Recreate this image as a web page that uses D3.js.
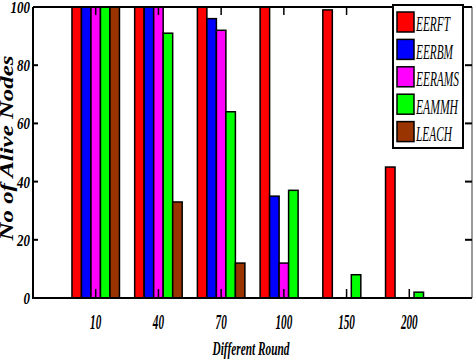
<!DOCTYPE html>
<html>
<head>
<meta charset="utf-8">
<script src="https://cdn.jsdelivr.net/npm/d3@7"></script>
<style>
  body { margin: 0; background: #fff; }
  svg { display: block; }
  text { font-family: "Liberation Serif", "Times New Roman", serif; }
</style>
</head>
<body>
<div id="container"></div>
<script>
// rounds on the x axis
var rounds = ["10", "40", "70", "100", "150", "200"];
// protocols (legend order)
var protocols = ["EERFT", "EERBM", "EERAMS", "EAMMH", "LEACH"];
var colors = ["#ff0000", "#0000ff", "#ff00ff", "#00ff00", "#993300"];
// alive nodes per protocol, one value per round
var eerft  = [100, 100, 100, 100, 99, 45];
var eerbm  = [100, 100, 96, 35, 0, 0];
var eerams = [100, 100, 92, 12, 0, 0];
var eammh  = [100, 91, 64, 37, 8, 2];
var leach  = [100, 33, 12, 0, 0, 0];
var yTicks = [0, 20, 40, 60, 80, 100];

var series = [eerft, eerbm, eerams, eammh, leach];

var svgWidth = 474, svgHeight = 362;
// plot box (note: "top" is reserved on window, so use a box object)
var box = { left: 33, right: 472, top: 7, bottom: 298 };

var svg = d3.select("div#container")
    .append("svg")
    .attr("width", svgWidth)
    .attr("height", svgHeight);

// x: groups sit at 1..6 on a 0..7 linear scale
var x = d3.scaleLinear().domain([0, rounds.length + 1]).range([box.left, box.right]);
var y = d3.scaleLinear().domain([0, 100]).range([box.bottom, box.top]);
var barW = 9.5;

// bars
var bars = [];
series.forEach(function (vals, s) {
    vals.forEach(function (v, g) {
        if (v > 0) bars.push({ g: g, s: s, v: v });
    });
});

svg.selectAll("rect.bar")
    .data(bars)
    .enter()
    .append("rect")
    .attr("class", "bar")
    .attr("x", function (d) { return x(d.g + 1) + (d.s - 2.5) * barW; })
    .attr("y", function (d) { return y(d.v); })
    .attr("width", barW)
    .attr("height", function (d) { return y(0) - y(d.v); })
    .attr("fill", function (d) { return colors[d.s]; })
    .attr("stroke", "#000")
    .attr("stroke-width", 1.5);

// frame
svg.append("line").attr("x1", box.right).attr("x2", box.right).attr("y1", box.top).attr("y2", box.bottom)
    .attr("stroke", "#999").attr("stroke-width", 2);
svg.append("line").attr("x1", box.left).attr("x2", box.right).attr("y1", box.top).attr("y2", box.top)
    .attr("stroke", "#000").attr("stroke-width", 2);
svg.append("line").attr("x1", box.left).attr("x2", box.left).attr("y1", box.top).attr("y2", box.bottom + 1)
    .attr("stroke", "#000").attr("stroke-width", 2);
svg.append("line").attr("x1", box.left).attr("x2", box.right).attr("y1", box.bottom).attr("y2", box.bottom)
    .attr("stroke", "#000").attr("stroke-width", 2);

// ticks inward
var groupIdx = d3.range(1, rounds.length + 1);
svg.selectAll("line.ttick").data(groupIdx).enter().append("line")
    .attr("x1", function (d) { return x(d); }).attr("x2", function (d) { return x(d); })
    .attr("y1", box.top).attr("y2", box.top + 8)
    .attr("stroke", "#000").attr("stroke-width", 1.5);
svg.selectAll("line.btick").data(groupIdx).enter().append("line")
    .attr("x1", function (d) { return x(d); }).attr("x2", function (d) { return x(d); })
    .attr("y1", box.bottom).attr("y2", box.bottom - 9)
    .attr("stroke", "#000").attr("stroke-width", 1.5);
svg.selectAll("line.ltick").data(yTicks).enter().append("line")
    .attr("x1", box.left).attr("x2", box.left + 5)
    .attr("y1", function (d) { return y(d); }).attr("y2", function (d) { return y(d); })
    .attr("stroke", "#000").attr("stroke-width", 2);
svg.selectAll("line.rtick").data(yTicks).enter().append("line")
    .attr("x1", box.right - 7).attr("x2", box.right)
    .attr("y1", function (d) { return y(d); }).attr("y2", function (d) { return y(d); })
    .attr("stroke", "#000").attr("stroke-width", 2);

// y tick labels
svg.selectAll("text.ylab").data(yTicks).enter().append("text")
    .attr("x", box.left - 3)
    .attr("y", function (d) { return y(d) + 6; })
    .attr("text-anchor", "end")
    .style("font-size", "17px").style("font-weight", "bold").style("font-style", "italic")
    .attr("textLength", function (d) { return String(d).length * 6.5; })
    .attr("lengthAdjust", "spacingAndGlyphs")
    .text(function (d) { return d; });

// x tick labels
svg.selectAll("text.xlab").data(rounds).enter().append("text")
    .attr("x", function (d, i) { return x(i + 1); })
    .attr("y", 329)
    .attr("text-anchor", "middle")
    .style("font-size", "22px").style("font-weight", "bold").style("font-style", "italic")
    .attr("textLength", function (d) { return d.length * 5.6; })
    .attr("lengthAdjust", "spacingAndGlyphs")
    .text(function (d) { return d; });

// axis titles
svg.append("text")
    .attr("x", 251).attr("y", 355)
    .attr("text-anchor", "middle")
    .style("font-size", "19px").style("font-weight", "bold").style("font-style", "italic")
    .attr("textLength", 77).attr("lengthAdjust", "spacingAndGlyphs")
    .text("Different Round");

svg.append("text")
    .attr("transform", "translate(13,148) rotate(-90)")
    .attr("text-anchor", "middle")
    .style("font-size", "18px").style("font-weight", "bold").style("font-style", "italic")
    .attr("textLength", 185).attr("lengthAdjust", "spacingAndGlyphs")
    .text("No of Alive Nodes");

// legend
var legendW = [34, 37, 43, 42, 36];
var lg = svg.append("g");
lg.append("rect")
    .attr("x", 393).attr("y", 5).attr("width", 70).attr("height", 143)
    .attr("fill", "#fff").attr("stroke", "#000").attr("stroke-width", 2);
lg.selectAll("rect.sw").data(protocols).enter().append("rect")
    .attr("x", 397).attr("y", function (d, i) { return 12 + i * 27.4; })
    .attr("width", 17).attr("height", 20)
    .attr("fill", function (d, i) { return colors[i]; })
    .attr("stroke", "#000").attr("stroke-width", 1.5);
lg.selectAll("text.lt").data(protocols).enter().append("text")
    .attr("x", 416).attr("y", function (d, i) { return 31 + i * 27.5; })
    .style("font-size", "22px").style("font-style", "italic")
    .attr("textLength", function (d, i) { return legendW[i]; })
    .attr("lengthAdjust", "spacingAndGlyphs")
    .text(function (d) { return d; });
</script>
</body>
</html>
